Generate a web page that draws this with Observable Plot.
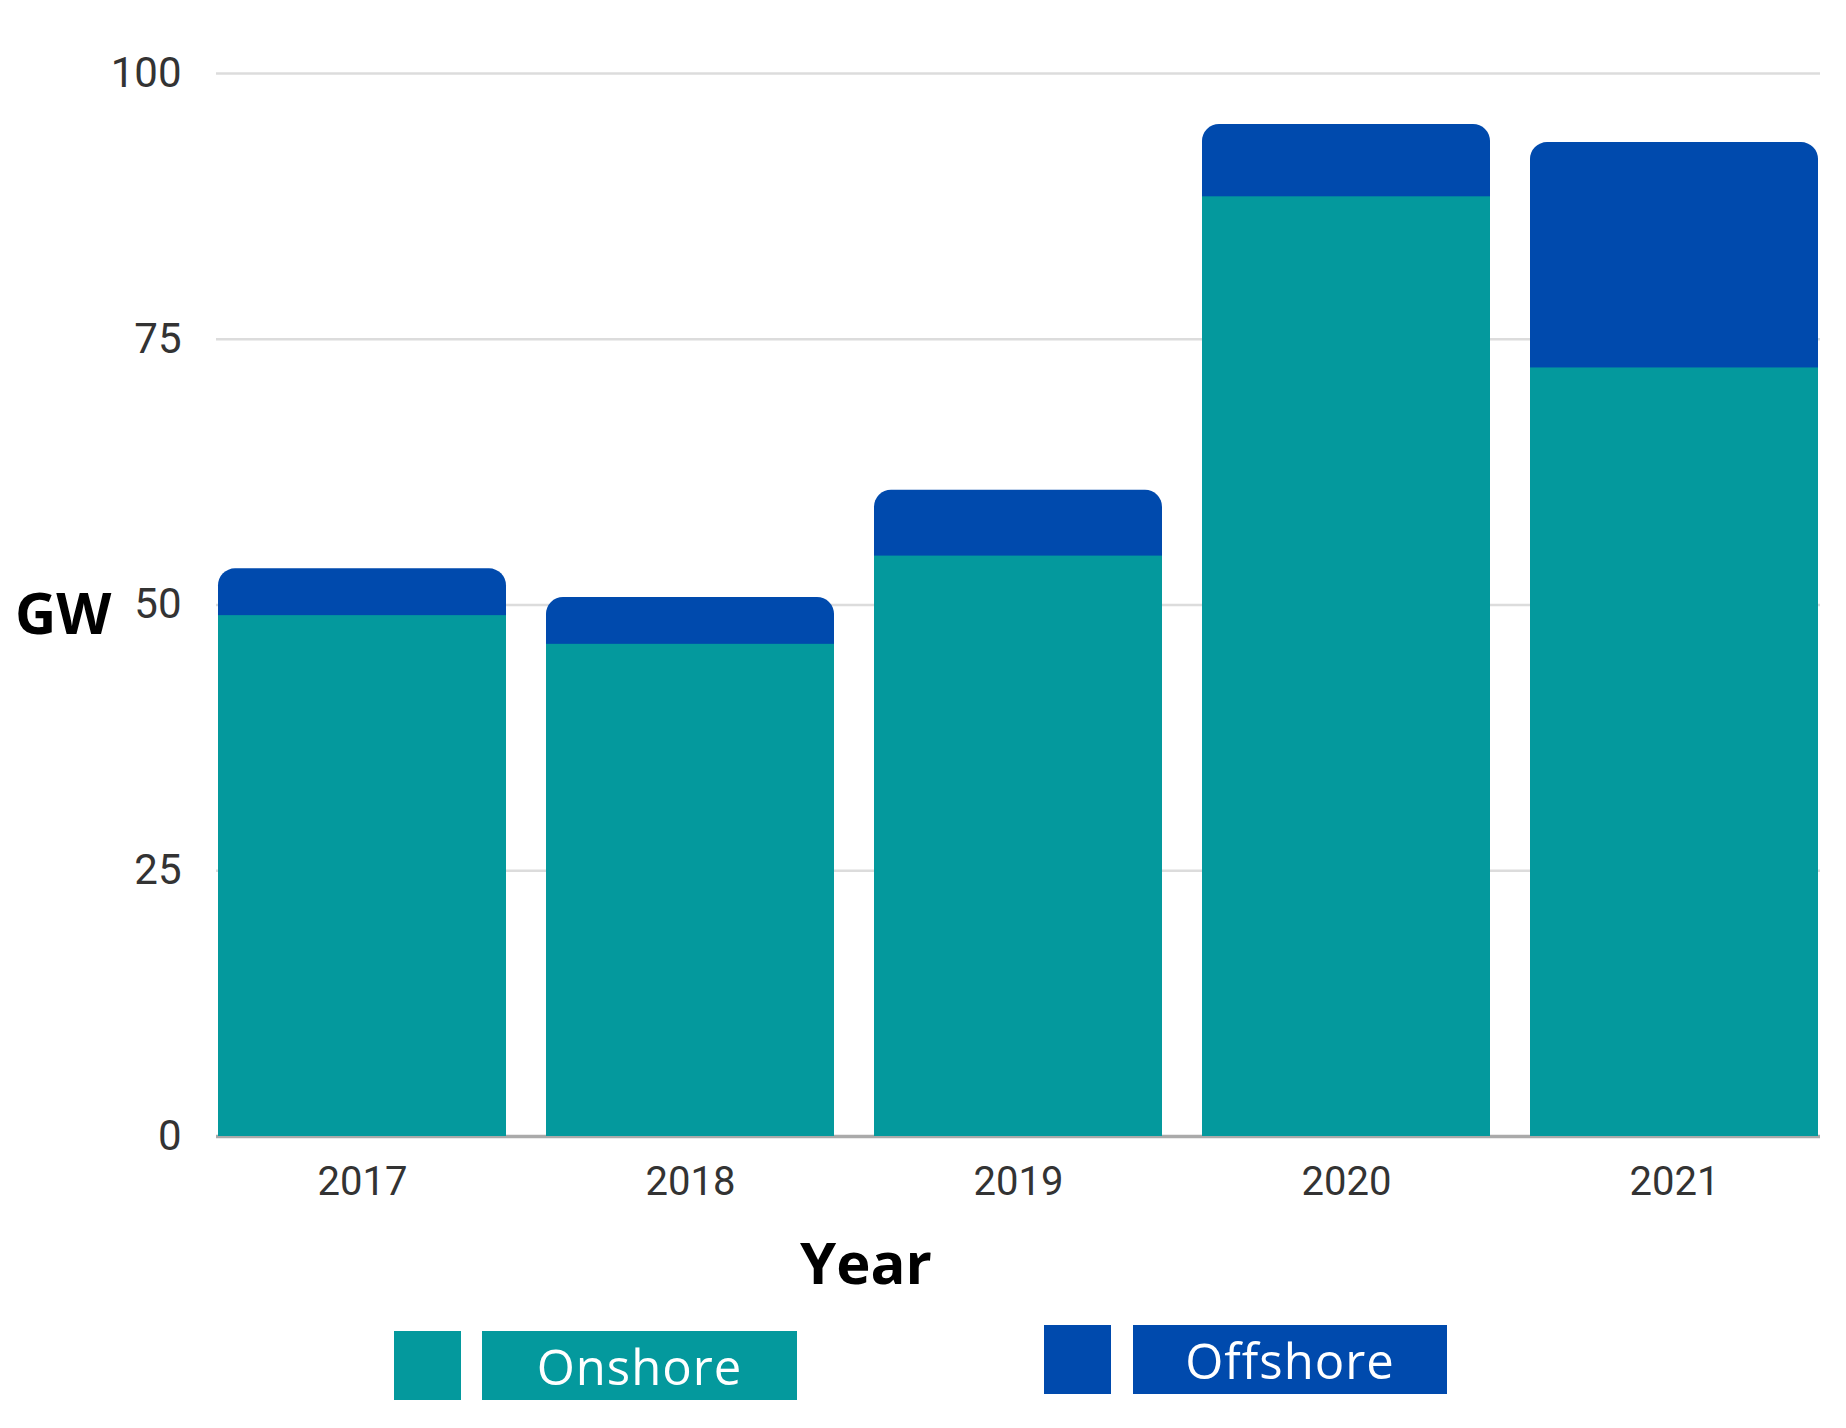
<!DOCTYPE html>
<html>
<head>
<meta charset="utf-8">
<script src="https://cdn.jsdelivr.net/npm/d3@7"></script>
<script src="https://cdn.jsdelivr.net/npm/@observablehq/plot@0.6"></script>
<style>
  html, body { margin: 0; padding: 0; background: #fff; }
  #wrap { position: relative; width: 1846px; height: 1428px; overflow: hidden; }
  #chart { position: absolute; left: 0; top: 0; }
  .lbl { position: absolute; font-family: "Open Sans", sans-serif; font-weight: 700; color: #000; white-space: nowrap; }
  .sw { position: absolute; }
  .lg { position: absolute; display: flex; align-items: center; justify-content: center;
        color: #fff; font-family: "Open Sans", sans-serif; font-size: 49px; letter-spacing: 1px; }
</style>
</head>
<body>
<div id="wrap">
  <div id="chart"></div>
  <div class="lbl" style="left:15px; top:612px; transform:translateY(-50%); font-size:57px;">GW</div>
  <div class="lbl" style="left:866px; top:1261px; transform:translate(-50%,-50%); font-size:58px;">Year</div>
  <div class="sw" style="left:394px; top:1331px; width:67px; height:69px; background:#04999D;"></div>
  <div class="lg" style="left:482px; top:1331px; width:315px; height:69px; background:#04999D;">Onshore</div>
  <div class="sw" style="left:1044px; top:1325px; width:67px; height:69px; background:#004AAD;"></div>
  <div class="lg" style="left:1133px; top:1325px; width:314px; height:69px; background:#004AAD;">Offshore</div>
</div>
<script>
const years = ["2017", "2018", "2019", "2020", "2021"];
const onshore = [49.0, 46.3, 54.6, 88.4, 72.3];
const offshore = [4.4, 4.4, 6.2, 6.8, 21.2];
const yTicks = [0, 25, 50, 75, 100];

const colors = { Onshore: "#04999D", Offshore: "#004AAD" };

const rows = years.map((year, i) => ({
  year,
  onshore: onshore[i],
  offshore: offshore[i],
  total: onshore[i] + offshore[i]
}));

const chart = Plot.plot({
  width: 1846,
  height: 1230,
  marginLeft: 216,
  marginRight: 26,
  marginTop: 73,
  marginBottom: 94,
  style: { fontFamily: "Roboto, sans-serif", fontSize: "40px", color: "#333", background: "#fff" },
  x: { domain: years, paddingInner: 0.122, paddingOuter: 0, label: null },
  y: { domain: [0, 100], ticks: yTicks, label: null },
  marks: [
    Plot.gridY(yTicks, { stroke: "#dcdcdc", strokeOpacity: 1, strokeWidth: 2.5 }),
    Plot.ruleY([0], { stroke: "#aaaaaa", strokeWidth: 3.5 }),
    Plot.barY(rows, { x: "year", y1: 0, y2: "total", fill: colors.Offshore, rx: 17 }),
    Plot.barY(rows, { x: "year", y1: 0, y2: "onshore", fill: colors.Onshore }),
    Plot.axisY(yTicks, { tickSize: 0, tickPadding: 35, fontSize: 42, label: null }),
    Plot.axisX({ tickSize: 0, tickPadding: 30, fontSize: 40, label: null })
  ]
});
document.getElementById("chart").appendChild(chart);
</script>
</body>
</html>
